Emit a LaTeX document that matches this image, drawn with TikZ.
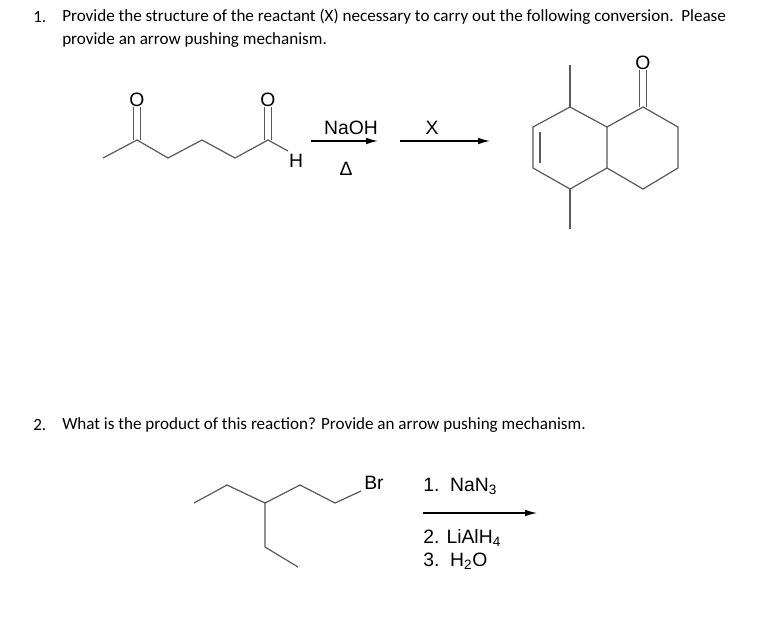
\documentclass[tikz,border=0pt]{standalone}
\usepackage{fontspec}
\usetikzlibrary{arrows.meta}
\setmainfont{Carlito}
\newfontfamily\arial{Liberation Sans}
\begin{document}
\begin{tikzpicture}[x=0.75pt,y=-0.75pt,
  bond/.style={draw=black!65,line width=0.9pt},
  rxn/.style={draw=black,line width=0.9pt,-{Latex[length=9pt,width=5pt]}},
  chem/.style={font=\arial\fontsize{14.5}{16}\selectfont,inner sep=0pt},
  q/.style={font=\fontsize{12.8}{15}\selectfont,inner sep=0pt,anchor=west}]
\useasboundingbox (0,0) rectangle (780,621);
\fill[white] (0,0) rectangle (780,621);
% question texts
\node[q] (q1n) at (33,17) {1.};
\node[q] (q1a) at (62,17) {Provide the structure of the reactant (X) necessary to carry out the following conversion.\ \ Please};
\node[q] (q1b) at (62,40) {provide an arrow pushing mechanism.};
\node[q] (q2n) at (33,425) {2.};
\node[q] (q2a) at (62,425) {What is the product of this reaction? Provide an arrow pushing mechanism.};
% molecule 1
\coordinate (a1) at (103,158);
\coordinate (a2) at (137,140);
\coordinate (a3) at (168,158);
\coordinate (a4) at (202,140);
\coordinate (a5) at (235,158);
\coordinate (a6) at (268,140);
\coordinate (aH) at (288,151);
\node[chem] (O1) at (137,100) {O};
\node[chem] (O2) at (268,100) {O};
\node[chem] (H1) at (296,161) {H};
\draw[bond] (a1)--(a2)--(a3)--(a4)--(a5)--(a6)--(aH);
\draw[bond] ([xshift=-2.5]a2) -- ([xshift=-2.5]O1.south);
\draw[bond] ([xshift=2.5]a2) -- ([xshift=2.5]O1.south);
\draw[bond] ([xshift=-2.5]a6) -- ([xshift=-2.5]O2.south);
\draw[bond] ([xshift=2.5]a6) -- ([xshift=2.5]O2.south);
% arrows 1
\coordinate (r1s) at (311,141); \coordinate (r1e) at (378,141);
\draw[rxn] (r1s) -- (r1e);
\node[chem] (naoh) at (351,128) {NaOH};
\node[chem] (delta) at (346,169) {Δ};
\coordinate (r2s) at (400,141); \coordinate (r2e) at (490,141);
\draw[rxn] (r2s) -- (r2e);
\node[chem] (X) at (432,128) {X};
% product
\coordinate (m1) at (570,65);
\coordinate (b1) at (570,107);
\coordinate (b2) at (533,127);
\coordinate (b3) at (533,168);
\coordinate (b4) at (570,189);
\coordinate (b5) at (607,168);
\coordinate (b6) at (607,127);
\coordinate (c1) at (643,107);
\coordinate (c2) at (678,127);
\coordinate (c3) at (678,168);
\coordinate (c4) at (643,189);
\coordinate (m2) at (570,229);
\node[chem] (O3) at (643,63) {O};
\draw[bond] (m1)--(b1);
\draw[bond] (b1)--(b2)--(b3)--(b4)--(b5)--(b6)--cycle;
\draw[bond] (b6)--(c1)--(c2)--(c3)--(c4)--(b5);
\draw[bond] (b4)--(m2);
\draw[bond] (540,132)--(540,163);
\draw[bond] ([xshift=-2.5]c1) -- ([xshift=-2.5]O3.south);
\draw[bond] ([xshift=2.5]c1) -- ([xshift=2.5]O3.south);
% molecule 2
\coordinate (d0) at (194,503);
\coordinate (d1) at (227,485);
\coordinate (d2) at (265,503);
\coordinate (d3) at (300,485);
\coordinate (d4) at (335,503);
\coordinate (d5) at (361,491);
\coordinate (d6) at (265,547);
\coordinate (d7) at (298,567);
\node[chem] (Br) at (374,483) {Br};
\draw[bond] (d0)--(d1)--(d2)--(d3)--(d4)--(d5);
\draw[bond] (d2)--(d6)--(d7);
\coordinate (r3s) at (423,513); \coordinate (r3e) at (537,513);
\draw[rxn] (r3s) -- (r3e);
\node[chem,anchor=west] (s1) at (423,486) {1.\ \ NaN\textsubscript{3}};
\node[chem,anchor=west] (s2) at (423,538) {2. LiAlH\textsubscript{4}};
\node[chem,anchor=west] (s3) at (423,561) {3.\ \ H\textsubscript{2}O};
\end{tikzpicture}
\end{document}
